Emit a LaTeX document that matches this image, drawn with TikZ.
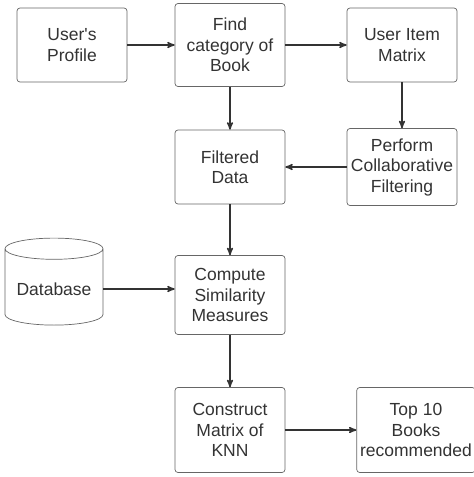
\documentclass[tikz,border=0pt]{standalone}
\usepackage{fontspec}
\setmainfont{Liberation Sans}
\usepackage{xcolor}
\usepackage{tikz}
\usetikzlibrary{arrows,shapes.geometric,positioning}

\definecolor{inkgray}{HTML}{333333}
\definecolor{boxgray}{HTML}{666666}

\begin{document}
\begin{tikzpicture}[->,
    >=stealth',
    line width=1.5pt,
    node distance=1cm]
  \tikzstyle{stage}=[draw=boxgray,line width=0.7pt,rounded corners=3pt,
    text=inkgray,align=center,minimum width=110pt,minimum height=74pt,
    font=\fontsize{17.5}{20.5}\selectfont]
  \tikzstyle{store}=[cylinder,shape border rotate=90,aspect=0.26,
    draw=boxgray,line width=0.7pt,text=inkgray,
    minimum width=98pt,minimum height=87pt,
    font=\fontsize{17.5}{20.5}\selectfont]
  \tikzstyle{flow}=[draw=inkgray]

  \useasboundingbox (0pt,0pt) rectangle (474pt,-477pt);

  \node[stage] (prof) at (72pt,-45pt)                  {User\textquotesingle s\\Profile};
  \node[stage,minimum height=83pt] (find) [right of=prof,node distance=158pt] {Find\\category of\\Book};
  \node[stage] (uim)  [right of=find,node distance=172pt] {User Item\\Matrix};
  \node[stage] (filt) [below of=find,node distance=122pt] {Filtered\\Data};
  \node[stage,minimum height=77pt] (perf) [below of=uim,node distance=122pt] {Perform\\Collaborative\\Filtering};
  \node[stage,minimum height=79pt] (comp) [below of=filt,node distance=128pt] {Compute\\Similarity\\Measures};
  \node[store] (db)   [left of=comp,node distance=176pt,yshift=6pt] {Database};
  \node[stage,minimum height=85pt] (cons) [below of=comp,node distance=135pt] {Construct\\Matrix of\\KNN};
  \node[stage,minimum height=85pt] (top)  [right of=cons,node distance=186pt] {Top 10\\Books\\recommended};

  \path[flow] (prof) edge (find)
              (find) edge (uim)
                     edge (filt)
              (uim)  edge (perf)
              (perf) edge (filt)
              (filt) edge (comp)
              (comp) edge (cons)
              (cons) edge (top);
  \draw[flow] (db.east) -- (db.east -| comp.west);
\end{tikzpicture}
\end{document}
